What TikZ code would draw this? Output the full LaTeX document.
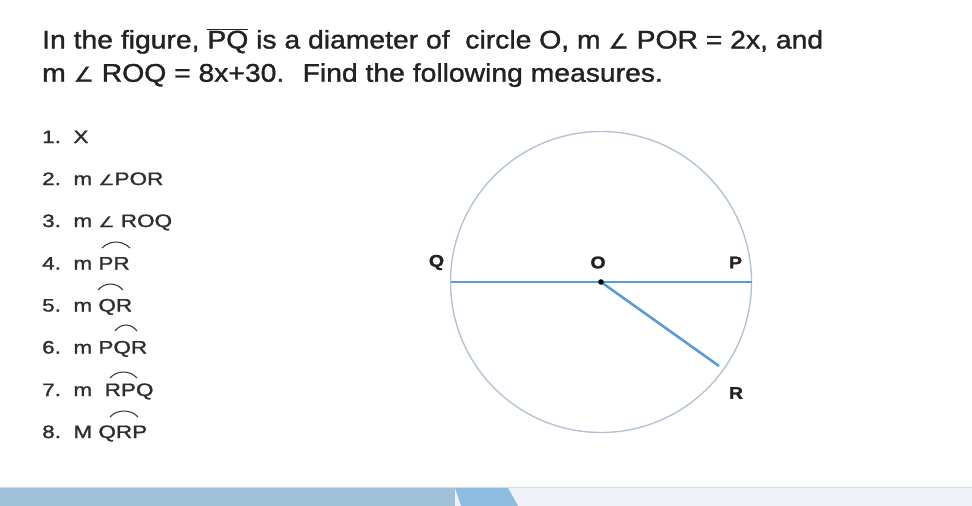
\documentclass[tikz,border=0pt]{standalone}
\usepackage{fontspec}
\setmainfont[FakeBold=1.2]{Liberation Sans}
\newfontfamily\symfont[FakeBold=1.2]{DejaVu Sans}
\definecolor{txt}{HTML}{222222}
\definecolor{lst}{HTML}{2E2E2E}
\definecolor{circ}{HTML}{B4C3D3}
\definecolor{seg}{HTML}{5B9BD5}
\definecolor{barA}{HTML}{9FC0D7}
\definecolor{barB}{HTML}{8DBCE0}
\definecolor{barC}{HTML}{EEF2F8}
\newcommand{\ang}{{\symfont\scalebox{0.8}{\char"2220}}}
\newcommand{\ttl}[1]{\scalebox{1.11}[1]{#1}}
\newcommand{\itm}[1]{\scalebox{1.25}[1]{#1}}
\newcommand{\lbl}[1]{\scalebox{1.15}[1]{#1}}
\begin{document}
\begin{tikzpicture}[x=1pt,y=-1pt,
  title/.style={anchor=base west, inner sep=0, text=txt, font=\fontsize{25.5}{30}\selectfont},
  item/.style={anchor=base west, inner sep=0, text=lst, font=\fontsize{18}{21}\selectfont},
  ptlabel/.style={inner sep=0, text=txt, font=\fontsize{17}{20}\selectfont\bfseries},
  arcmark/.style={draw=lst, line width=1pt},
  seg/.style={draw=seg, line width=2.6pt}]
\useasboundingbox (0,0) rectangle (972,506);
\fill[white] (0,0) rectangle (972,506);
% title
\node[title] (t1) at (42,48.5) {\ttl{In the figure, $\overline{\mbox{PQ}}$ is a diameter of \ circle O, m \ang\ POR = 2x, and}};
\node[title] (t2) at (42,81.7) {\ttl{m \ang\ ROQ = 8x+30. \ Find the following measures.}};
% list
\node[item] (i1) at (42,143) {\itm{1.\ \ X}};
\node[item] (i2) at (42,185) {\itm{2.\ \ m \ang POR}};
\node[item] (i3) at (42,227) {\itm{3.\ \ m \ang\ ROQ}};
\node[item] (i4) at (42,269.5) {\itm{4.\ \ m PR}};
\node[item] (i5) at (42,311.5) {\itm{5.\ \ m QR}};
\node[item] (i6) at (42,353.5) {\itm{6.\ \ m PQR}};
\node[item] (i7) at (42,396) {\itm{7.\ \ m \ RPQ}};
\node[item] (i8) at (42,438) {\itm{8.\ \ M QRP}};
% arcs over letters
\draw[arcmark] (102,248) .. controls (110,240) and (122,240) .. (130,248);
\draw[arcmark] (98,290) .. controls (105,282) and (116,282) .. (123,290);
\draw[arcmark] (115,331) .. controls (121,323) and (131,323) .. (137,331);
\draw[arcmark] (110,378) .. controls (117,370) and (130,370) .. (137,378);
\draw[arcmark] (110,417) .. controls (117,409) and (131,409) .. (138,417);
% circle figure
\coordinate (O) at (601,282);
\coordinate (Q) at (450.5,282);
\coordinate (P) at (751.5,282);
\coordinate (R) at (719,366);
\draw[circ, line width=1.4pt] (O) circle (150.5);
\draw[seg] (Q) -- (P);
\draw[seg] (O) -- (R);
\fill[black] (O) circle (2.8);
\node[ptlabel] (lq) at (436.5,262.5) {\lbl{Q}};
\node[ptlabel] (lo) at (598,262.5) {\lbl{O}};
\node[ptlabel] (lp) at (735.5,262.5) {\lbl{P}};
\node[ptlabel] (lr) at (736,393) {\lbl{R}};
% bottom bar
\fill[barC] (0,488) rectangle (972,506);
\fill[barA] (0,488) rectangle (455,506);
\fill[barB] (455,488) -- (508,488) -- (518,506) -- (461,506) -- cycle;
\draw[gray!30, line width=0.8pt] (0,487.5) -- (972,487.5);
\end{tikzpicture}
\end{document}
